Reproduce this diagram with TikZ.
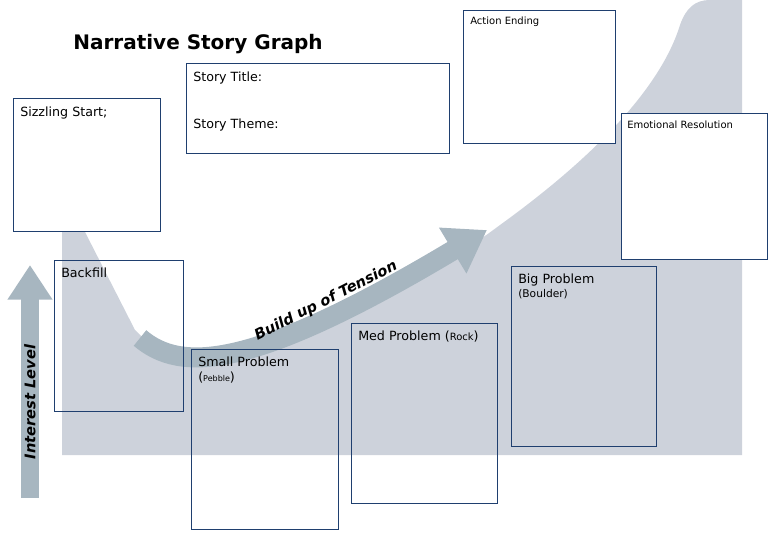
\documentclass[tikz,border=0pt]{standalone}
\usepackage{fontspec}
\setmainfont{DejaVu Sans}
\usetikzlibrary{arrows.meta}
\definecolor{area}{HTML}{CDD2DB}
\definecolor{arr}{HTML}{A7B6C0}
\definecolor{bx}{HTML}{1F3F6F}
\begin{document}
\begin{tikzpicture}[x=0.75pt,y=-0.75pt,
  box/.style={draw=bx,line width=0.6pt},
  lbl/.style={anchor=north west,inner sep=0pt,font=\fontsize{9.5}{11}\selectfont},
  slbl/.style={anchor=north west,inner sep=0pt,font=\fontsize{7.5}{9}\selectfont}]
\useasboundingbox (0,0) rectangle (768,543);
\fill[area] (62,232) -- (85,232) -- (135,330) .. controls (150,345) and (175,365) .. (200,366)
  .. controls (300,345) and (420,285) .. (500,225)
  .. controls (590,160) and (660,90) .. (680,25)
  .. controls (686,8) and (695,0) .. (710,0) -- (742,0) -- (742,455) -- (62,455) -- cycle;
\coordinate (as) at (140,338);
\coordinate (ae) at (487,230);
\draw[arr,line width=15pt,-{Triangle[length=30pt,width=38pt]}] (as) .. controls (180,372) and (250,372) .. (ae);
\coordinate (is) at (30,498);
\coordinate (ie) at (30,265);
\draw[arr,line width=14pt,-{Triangle[length=26pt,width=32pt]}] (is) -- (ie);
\node[rotate=90,font=\bfseries\itshape\fontsize{11}{13}\selectfont] (il) at (30,402) {Interest Level};
\node[rotate=27,font=\bfseries\itshape\fontsize{11}{13}\selectfont] (bt) at (326,301) {Build up of Tension};
\node[font=\bfseries\fontsize{15}{18}\selectfont] (title) at (198,44) {Narrative Story Graph};
\draw[box] (13,98) rectangle (160,231);
\node[lbl] (t1) at (20,107) {Sizzling Start;};
\draw[box] (186,63) rectangle (449,153);
\node[lbl] (t2) at (193,72) {Story Title:};
\node[lbl] (t3) at (193,119) {Story Theme:};
\draw[box,fill=white] (463,10) rectangle (615,143);
\node[slbl] (t4) at (470,17) {Action Ending};
\draw[box,fill=white] (621,113) rectangle (767,259);
\node[slbl] (t5) at (627,121) {Emotional Resolution};
\draw[box] (54,260) rectangle (183,411);
\node[lbl] (t6) at (61,268) {Backfill};
\draw[box] (191,349) rectangle (338,529);
\node[lbl] (t7) at (198,357) {Small Problem};
\node[lbl] (t7b) at (198,372) {(\fontsize{6}{7}\selectfont Pebble\fontsize{9.5}{11}\selectfont)};
\draw[box] (351,323) rectangle (497,503);
\node[lbl] (t8) at (358,331) {Med Problem (\fontsize{7.5}{9}\selectfont Rock\fontsize{9.5}{11}\selectfont)};
\draw[box] (511,266) rectangle (656,446);
\node[lbl] (t9) at (518,274) {Big Problem};
\node[lbl] (t9b) at (518,289) {\fontsize{8}{9}\selectfont(Boulder)};
\end{tikzpicture}
\end{document}
